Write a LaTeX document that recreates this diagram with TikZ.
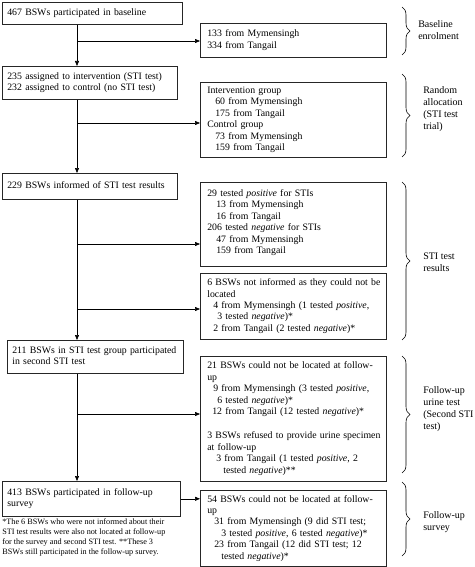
\documentclass[tikz,border=0pt]{standalone}
\usepackage{fontspec}
\setmainfont{Liberation Serif}
\usetikzlibrary{arrows.meta,decorations.pathreplacing}
\tikzset{
  flowchart/.style={
    x=1pt, y=-1pt,
    >={Triangle[length=5pt,width=4pt]},
    line width=0.6pt,
  },
  stagebox/.style={draw=black!85, anchor=north west, align=left,
    inner xsep=5pt, inner ysep=1pt, font=\fontsize{9.8}{11.4}\selectfont},
  sidebox/.style={stagebox, inner xsep=7pt, text width=172pt},
  phasebrace/.style={decorate, decoration={brace,amplitude=8pt}},
  phaselabel/.style={anchor=west, align=left, inner sep=0pt,
    font=\fontsize{10}{11.8}\selectfont},
}
\newcommand{\ind}[1]{\hspace*{#1pt}}
\newcommand{\pos}{\emph{positive}}
\newcommand{\negt}{\emph{negative}}
\newcommand{\rows}[1]{\begin{tabular}{@{}l@{}}#1\end{tabular}}

\begin{document}
\begin{tikzpicture}
        [flowchart]
\useasboundingbox (0,0) rectangle (474,567);
% main flow, left column
\node[stagebox, text width=170pt, minimum height=22pt] (b1) at (2,2)
  {\rows{467 BSWs participated in baseline}};
\node[stagebox, text width=165pt, minimum height=33pt] (b2) at (2,66)
  {\rows{235 assigned to intervention (STI test)\\232 assigned to control (no STI test)}};
\node[stagebox, text width=165pt, minimum height=26pt] (b3) at (2,173)
  {\rows{229 BSWs informed of STI test results}};
\node[stagebox, text width=166pt, minimum height=33pt] (b4) at (7,340)
  {\rows{211 BSWs in STI test group participated\\in second STI test}};
\node[stagebox, text width=168pt, minimum height=35pt] (b5) at (2,481)
  {\rows{413 BSWs participated in follow-up\\survey}};
% side boxes
\node[sidebox, minimum height=34pt] (r1) at (200,23)
  {\rows{133 from Mymensingh\\334 from Tangail}};
\node[sidebox, minimum height=75pt] (r2) at (200,82)
  {\rows{Intervention group\\\ind{8}60 from Mymensingh\\\ind{8}175 from Tangail\\
   Control group\\\ind{8}73 from Mymensingh\\\ind{8}159 from Tangail}};
\node[sidebox, minimum height=84pt] (r3) at (200,182)
  {\rows{29 tested \pos{} for STIs\\\ind{9}13 from Mymensingh\\\ind{9}16 from Tangail\\
   206 tested \negt{} for STIs\\\ind{9}47 from Mymensingh\\\ind{9}159 from Tangail\\[3pt]}};
\node[sidebox, minimum height=66pt] (r4) at (200,273)
  {\rows{6 BSWs not informed as they could not be\\located\\
   \ind{6}4 from Mymensingh (1 tested \pos,\\\ind{10}3 tested \negt)*\\
   \ind{6}2 from Tangail (2 tested \negt)*}};
\node[sidebox, minimum height=125pt] (r5) at (200,356)
  {\rows{21 BSWs could not be located at follow-\\up\\
   \ind{6}9 from Mymensingh (3 tested \pos,\\\ind{10}6 tested \negt)*\\
   \ind{5}12 from Tangail (12 tested \negt)*\\[13pt]
   3 BSWs refused to provide urine specimen\\at follow-up\\
   \ind{9}3 from Tangail (1 tested \pos, 2\\\ind{16}tested \negt)**}};
\node[sidebox, minimum height=76pt] (r6) at (200,490)
  {\rows{54 BSWs could not be located at follow-\\up\\
   \ind{7}31 from Mymensingh (9 did STI test;\\\ind{14}3 tested \pos, 6 tested \negt)*\\
   \ind{7}23 from Tangail (12 did STI test; 12\\\ind{14}tested \negt)*}};
\node[anchor=north west, align=left, inner sep=0pt,
      font=\fontsize{8.2}{10.2}\selectfont] (note) at (2,518)
  {*The 6 BSWs who were not informed about their\\
   STI test results were also not located at follow-up\\
   for the survey and second STI test. **These 3\\
   BSWs still participated in the follow-up survey.};
% spine and branches
\coordinate (spine) at (77,0);
\coordinate (j1) at (77,41);
\coordinate (j2) at (77,123);
\coordinate (j3) at (77,244);
\coordinate (j4) at (77,309);
\coordinate (j5) at (77,414);
\draw[->] (b1.south -| spine) -- (b2.north -| spine);
\draw[->] (b2.south -| spine) -- (b3.north -| spine);
\draw[->] (b3.south -| spine) -- (b4.north -| spine);
\draw[->] (b4.south -| spine) -- (b5.north -| spine);
\draw[->] (j1) -- (j1 -| r1.west);
\draw[->] (j2) -- (j2 -| r2.west);
\draw[->] (j3) -- (j3 -| r3.west);
\draw[->] (j4) -- (j4 -| r4.west);
\draw[->] (j5) -- (j5 -| r5.west);
\draw[->] (b5.east) -- (b5.east -| r6.west);
% phases
\draw[phasebrace] (402,7) -- (402,55);
\draw[phasebrace] (402,74) -- (402,157);
\draw[phasebrace] (402,182) -- (402,340);
\draw[phasebrace] (402,356) -- (402,473);
\draw[phasebrace] (402,482) -- (402,556);
\node[phaselabel] (p1) at (418,30) {Baseline\\enrolment};
\node[phaselabel] (p2) at (423,109) {Random\\allocation\\(STI test\\trial)};
\node[phaselabel] (p3) at (423,262) {STI test\\results};
\node[phaselabel] (p4) at (423,409) {Follow-up\\urine test\\(Second STI\\test)};
\node[phaselabel] (p5) at (423,522) {Follow-up\\survey};
\end{tikzpicture}
\end{document}
